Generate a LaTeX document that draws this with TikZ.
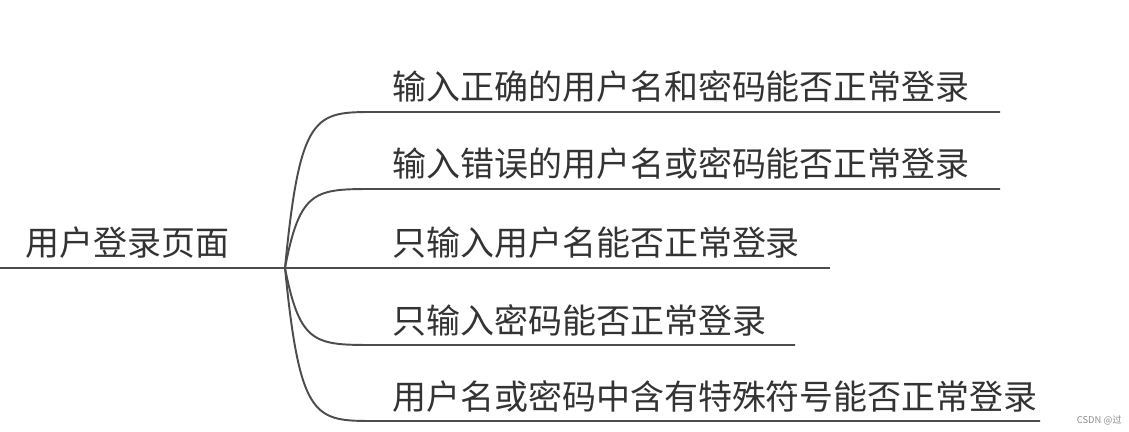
\documentclass[tikz,border=0pt]{standalone}
\usepackage{fontspec}
\newfontfamily\cjk{Noto Sans CJK SC}
\begin{document}
\begin{tikzpicture}[x=0.03cm,y=-0.03cm,
  br/.style={draw=black!70,line width=2.2pt*0.75},
  lbl/.style={font=\cjk\fontsize{29}{32}\selectfont,text=black!80,anchor=base west,inner sep=0pt}]
\useasboundingbox (0,0) rectangle (1129,432);
\coordinate (r) at (285,268);
\draw[br] (0,268) -- (r);
\node[lbl] (root) at (25,256) {用户登录页面};
\foreach \y/\e/\t/\n in {112/1000/输入正确的用户名和密码能否正常登录/a,
  189/1000/输入错误的用户名或密码能否正常登录/b,
  345/795/只输入密码能否正常登录/d,
  421/1040/用户名或密码中含有特殊符号能否正常登录/e}{
  \coordinate (s\n) at (375,\y);
  \coordinate (t\n) at (\e,\y);
  \draw[br] (r) .. controls (300,\y) and (315,\y) .. (s\n) -- (t\n);
  \node[lbl] (\n) at (392,\y-12) {\t};
}
\coordinate (tc) at (830,268);
\draw[br] (r) -- (tc);
\node[lbl] (c) at (392,256) {只输入用户名能否正常登录};
\node[font=\cjk\fontsize{8}{9}\selectfont,text=black!45,anchor=base east,inner sep=0pt] (wm) at (1122,423) {CSDN @过};
\end{tikzpicture}
\end{document}
